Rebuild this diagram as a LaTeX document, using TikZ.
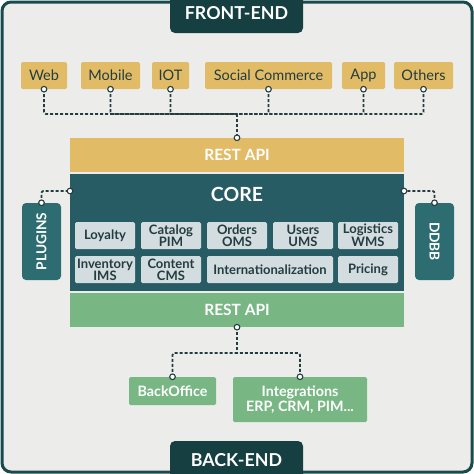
\documentclass[tikz,border=0pt]{standalone}
\usepackage{fontspec}
\setmainfont{Lato}
\usepackage{tikz}
\usetikzlibrary{positioning}

\definecolor{frame}{HTML}{1B4A4C}
\definecolor{tabc}{HTML}{163F42}
\definecolor{paper}{HTML}{ECEDEA}
\definecolor{gold}{HTML}{E2BB66}
\definecolor{corec}{HTML}{275C64}
\definecolor{sidec}{HTML}{2D6D72}
\definecolor{leaf}{HTML}{78B783}
\definecolor{modc}{HTML}{D3DDE0}
\definecolor{ink}{HTML}{233C3F}

\begin{document}
\begin{tikzpicture}[x=1pt,y=-1pt,
  tab/.style={fill=tabc, text=white, rounded corners=5pt, minimum width=133pt, minimum height=39pt, inner sep=0pt, font=\bfseries\fontsize{17.8}{20}\selectfont},
  front/.style={fill=gold, text=ink, rounded corners=1.5pt, minimum height=27pt, inner sep=0pt, font=\fontsize{14.5}{16}\selectfont},
  band/.style={minimum width=334pt, minimum height=34pt, inner sep=0pt, text=white, font=\bfseries\fontsize{15.5}{18}\selectfont},
  module/.style={fill=modc, text=ink, rounded corners=1.5pt, minimum width=60pt, minimum height=27pt, inner sep=0pt, align=center, font=\bfseries\fontsize{13}{11.8}\selectfont},
  side/.style={fill=sidec, text=white, rounded corners=4pt, minimum width=39pt, minimum height=77pt, inner sep=0pt, font=\bfseries\fontsize{13.7}{15}\selectfont},
  back/.style={fill=leaf, text=white, rounded corners=1.5pt, inner sep=0pt, align=center, font=\bfseries\fontsize{14.3}{15.5}\selectfont},
  link/.style={draw=ink, line width=1.8pt, dash pattern=on 3pt off 2pt, rounded corners=2pt},
  dot/.style={draw=ink, fill=white, line width=1.1pt}]

  \useasboundingbox (0,0) rectangle (474,474);
  \draw[frame, fill=paper, line width=3pt, rounded corners=9pt] (2,2) rectangle (472,472);

  % tabs
  \draw (236.5,13.5) node[tab] (fronttab) {FRONT-END};
  \draw (236.5,460.5) node[tab] (backtab) {BACK-END};

  % front-end channels
  \draw (44,75.5) node[front, minimum width=46pt] (web) {Web};
  \draw (110.5,75.5) node[front, minimum width=59pt] (mobile) {Mobile};
  \draw (170.5,75.5) node[front, minimum width=37pt] (iot) {IOT};
  \draw (268.5,75.5) node[front, minimum width=127pt] (social) {Social Commerce};
  \draw (363.5,75.5) node[front, minimum width=43pt] (app) {App};
  \draw (423.5,75.5) node[front, minimum width=59pt] (others) {Others};

  % platform
  \draw (237,155) node[band, fill=gold] (restup) {REST API};
  \draw (237,232.5) node[band, fill=corec, minimum height=117pt] (core) {};
  \draw (237,194) node[text=white, font=\bfseries\fontsize{19.5}{24}\selectfont] (coretitle) {CORE};
  \draw (237,310) node[band, fill=leaf] (restdown) {REST API};

  \draw (105,235.5) node[module] (loyalty) {Loyalty};
  \draw (171,235.5) node[module] (catalog) {Catalog\\PIM};
  \draw (237,235.5) node[module] (orders) {Orders\\OMS};
  \draw (303,235.5) node[module] (users) {Users\\UMS};
  \draw (368,235.5) node[module] (logistics) {Logistics\\WMS};
  \draw (105,269.5) node[module] (inventory) {Inventory\\IMS};
  \draw (171,269.5) node[module] (content) {Content\\CMS};
  \draw (270,269.5) node[module, minimum width=126pt] (intl) {Internationalization};
  \draw (368,269.5) node[module] (pricing) {Pricing};

  % sides
  \draw (41.5,241.5) node[side] (plugins) {\rotatebox{90}{PLUGINS}};
  \draw (434.5,241.5) node[side] (ddbb) {\rotatebox{-90}{DDBB}};

  % back-end
  \draw (172.5,391) node[back, minimum width=87pt, minimum height=28pt] (backoffice) {BackOffice};
  \draw (300,399.5) node[back, minimum width=134pt, minimum height=45pt] (integ) {Integrations\\ERP, CRM, PIM...};

  % connectors
  \coordinate (tophub) at (237,114);
  \coordinate (plugin) at (70,191);
  \coordinate (ddbbin) at (404,191);
  \coordinate (bothub) at (237,353);
  \foreach \n in {web,mobile,iot,social,app,others}
    \path[link] (\n.south) |- (tophub);
  \path[link] (tophub) -- (restup.north);
  \path[link] (plugins.north) |- (plugin);
  \path[link] (ddbb.north) |- (ddbbin);
  \path[link] (restdown.south) -- (bothub);
  \path[link] (backoffice.north) |- (bothub);
  \path[link] (integ.north) |- (bothub);

  \foreach \n in {web.south,mobile.south,iot.south,social.south,app.south,others.south,restup.north,plugins.north,plugin,ddbb.north,ddbbin,restdown.south,backoffice.north,integ.north}
    \draw[dot] (\n) circle (2.8pt);
\end{tikzpicture}
\end{document}
